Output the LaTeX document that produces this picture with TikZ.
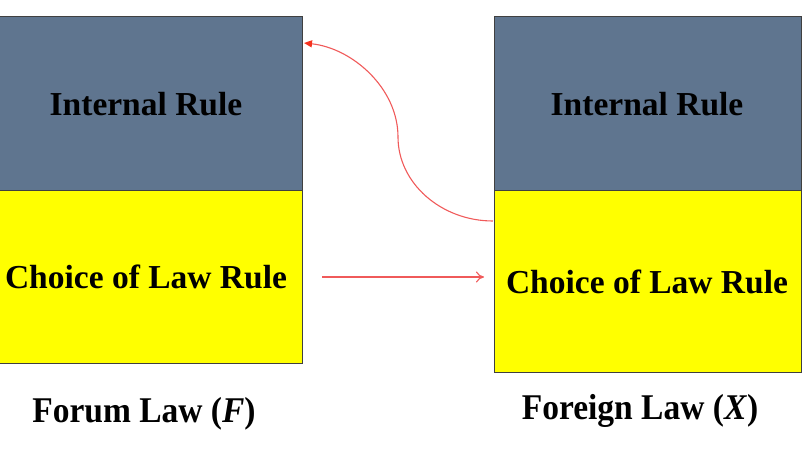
\documentclass[tikz,border=0pt]{standalone}
\usepackage{fontspec}
\setmainfont{Liberation Serif}
\usetikzlibrary{arrows.meta}
\definecolor{slate}{RGB}{95,117,143}
\definecolor{yel}{RGB}{255,255,0}
\definecolor{arrred}{RGB}{240,90,90}
\definecolor{tipred}{RGB}{245,50,30}
\begin{document}
\begin{tikzpicture}[x=1pt,y=-1pt,
  box/.style={draw=black!75,line width=0.9pt,inner sep=0pt},
  lbl/.style={font=\fontsize{33.5}{36}\selectfont\bfseries},
  captxt/.style={font=\fontsize{33.5}{36}\selectfont\bfseries,yscale=1.08},
  conn/.style={draw=arrred,line width=1.1pt}]
\useasboundingbox (0,0) rectangle (812,473);
\clip (0,0) rectangle (812,473);
% left column
\filldraw[box,fill=slate] (-10,16) rectangle (302,190);
\filldraw[box,fill=yel] (-10,190) rectangle (302,363);
\node[lbl] (lint) at (146,104) {Internal Rule};
\node[lbl] (lcl) at (146,277) {Choice of Law Rule};
% right column
\filldraw[box,fill=slate] (494,16) rectangle (801,190);
\filldraw[box,fill=yel] (494,190) rectangle (801,372);
\node[lbl] (rint) at (647,104) {Internal Rule};
\node[lbl] (rcl) at (647,282) {Choice of Law Rule};
% captions
\node[captxt] (fl) at (144,414) {Forum Law (\textit{F})};
\node[captxt] (xl) at (640,411) {Foreign Law (\textit{X})};
% connectors
\coordinate (a1) at (322,277);
\coordinate (a2) at (484,277);
\draw[conn,-{To[length=8pt,width=11pt]}] (a1) -- (a2);
\coordinate (c1) at (493,221);
\coordinate (cm) at (398,137);
\coordinate (c2) at (304,43);
\draw[conn,-{Triangle[length=8pt,width=7pt,color=tipred]}]
  (c1) .. controls (441,221) and (398,183) .. (cm)
       .. controls (398,88) and (352,48) .. (c2);
\end{tikzpicture}
\end{document}
